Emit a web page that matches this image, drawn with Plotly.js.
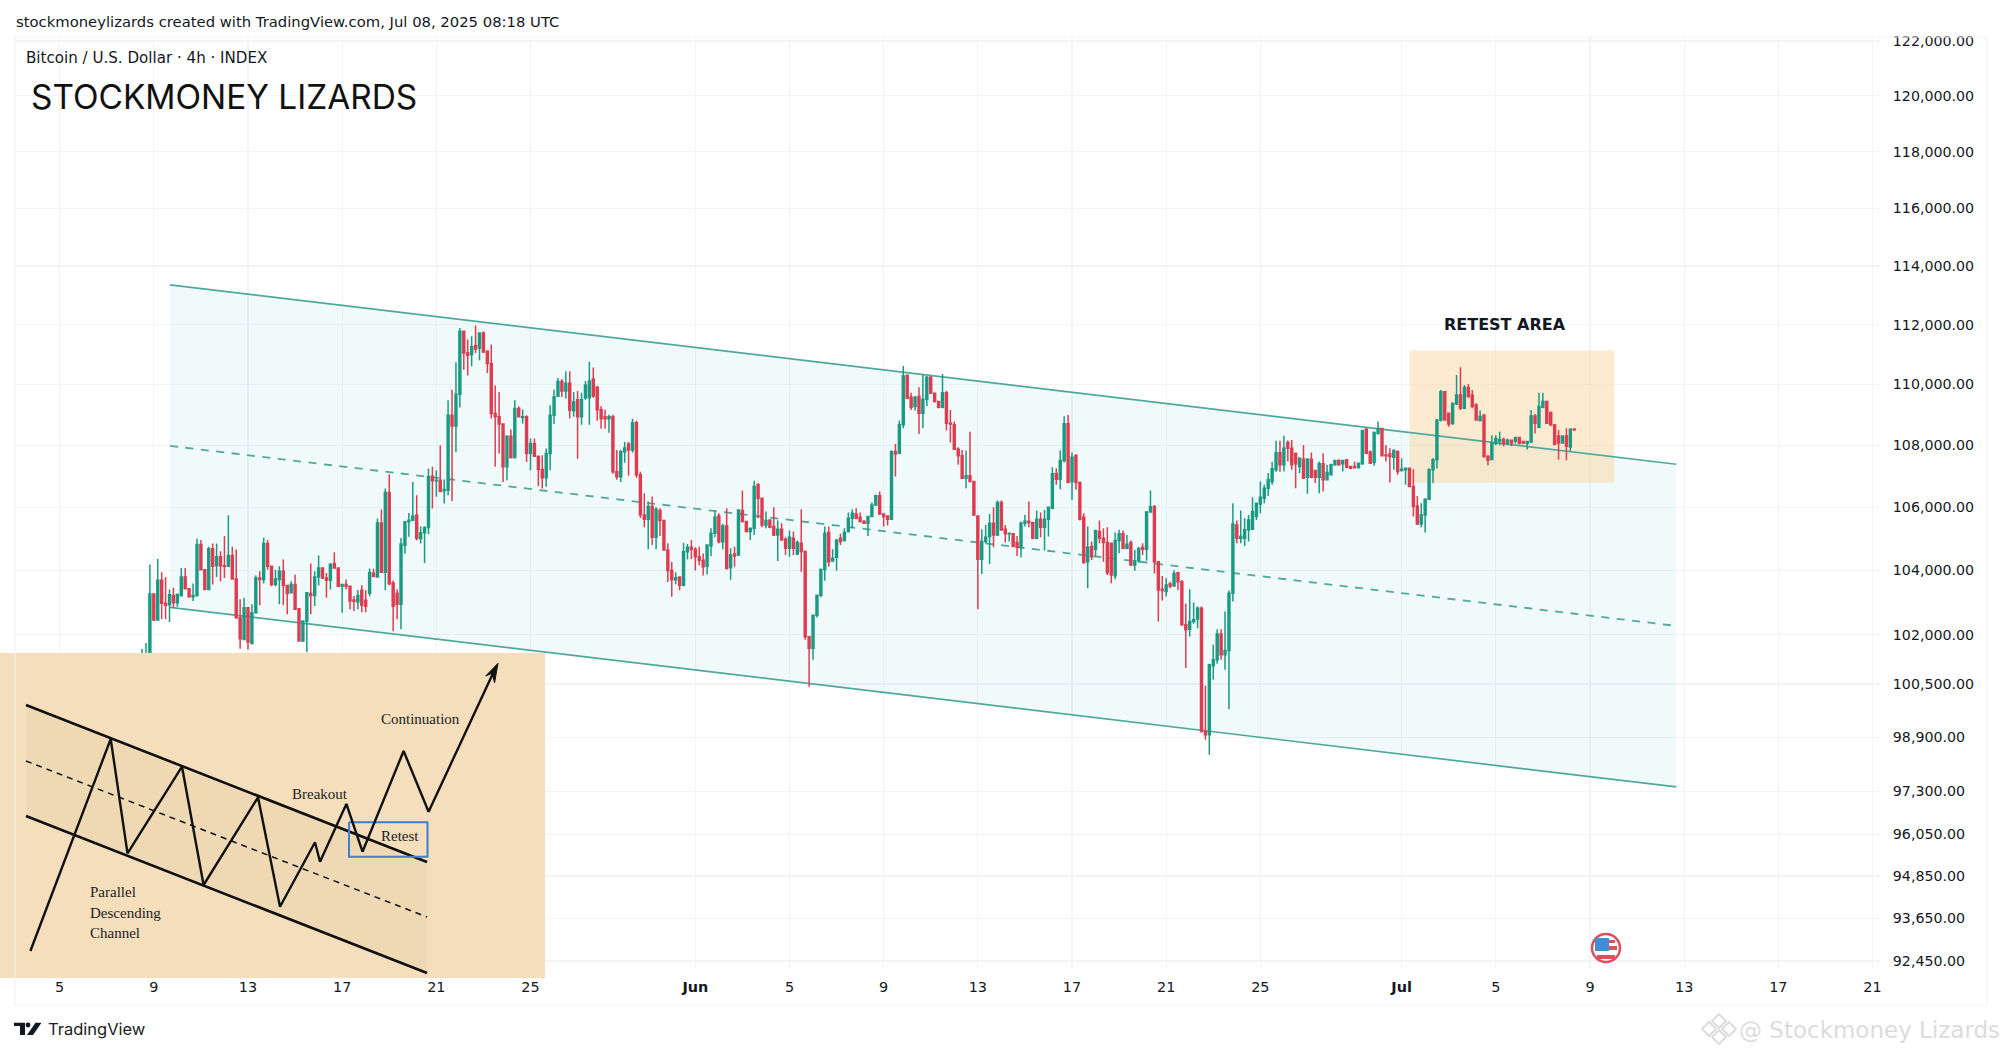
<!DOCTYPE html>
<html>
<head>
<meta charset="utf-8">
<script src="https://cdn.plot.ly/plotly-3.0.1.min.js"></script>
<style>html,body{margin:0;padding:0;background:#fff}#chart{width:2001px;height:1053px}</style>
</head>
<body>
<div id="chart"></div>
<script>
// ---- candle data (BTCUSD 4h) ----
const candleStart = '2025-05-08T12:00:00Z';
const opens = [100630,101085,101400,103262,102459,103695,102974,102933,103222,102995,103222,103798,103428,103180,103222,104820,104025,103407,104682,104152,104428,104152,104131,104470,103737,102532,101862,102841,101738,102686,103768,103716,104852,104131,103562,103716,103974,103530,103304,103562,102810,101811,102428,103283,103222,103798,104078,103768,103695,104216,104078,103510,103562,103510,103078,103016,
103380,103070,103290,103917,103793,105503,103948,106474,103606,103287,102946,104793,105535,105588,105746,105006,105186,105355,106998,106848,106869,106528,106549,108986,108627,109673,111778,111050,110994,111296,111218,111722,111106,110692,109041,108932,108692,107300,108294,107602,109204,108910,108932,107731,108055,107645,107214,106945,107731,108986,109608,110098,109782,110042,109128,
109490,108930,109555,109555,110180,109915,109160,108930,108865,108930,107140,106980,107790,108045,107850,108735,107045,105756,105618,106022,105046,105894,105576,104643,104000,103712,103794,103536,104590,104728,104664,104431,104325,104134,104770,105173,105724,104908,105406,104092,104516,104484,105894,105544,105226,105332,106722,106291,105438,105597,105385,105120,105300,104982,104696,
105016,104519,104857,104593,101940,101590,102605,103225,104030,105196,104296,104413,105016,104942,105228,105651,105788,105683,105545,105492,105704,106076,106366,105788,105725,105619,107796,107742,108667,110302,109574,109268,109596,109049,109508,110235,109705,109432,109246,109727,108721,108667,107871,107656,106936,107011,106829,105725,104350,104910,105069,105492,105122,106150,
105302,105154,105154,104878,104730,105492,105556,105513,105016,105619,105365,105619,105968,107075,106903,107505,108704,106828,107656,106796,105683,104275,104752,104667,105228,105016,104878,104857,103835,104942,105154,104699,104878,104170,104307,104730,104667,105852,106021,
104275,103413,103341,103578,103516,103928,103650,102311,102176,102414,102486,102826,99075,98975,101056,101239,102031,101391,101523,103289,105439,105016,105016,105281,105302,105704,106108,106291,106614,106818,107205,107755,
107366,108088,107903,107742,107312,107549,106968,107549,107183,106968,107398,106882,107043,107366,107505,107398,107527,107312,107312,107269,107398,108528,107785,107441,108396,108550,107688,107720,107613,107796,107183,107205,107258,106667,106043,105471,105757,106258,107204,107527,108828,109759,109047,108719,109354,109650,109212,109901,109650,109321,108806,108993,107645,107538,108055,108142,108186,108077,108164,108142,108252,108121,108055,108110,108960,108587,109244,109431,109069,108664,108303,108077,108303,107946,108533];
const closes = [101085,101400,103262,102459,103695,102974,102913,103242,102995,103252,103798,103428,103180,103222,104820,104025,103407,104682,104131,104428,104152,104131,104470,103737,102532,101883,102841,101780,102686,103768,103716,104852,104131,103562,103737,103974,103530,103283,103562,102789,101811,102428,103304,103222,103798,104078,103768,103695,104184,104078,103510,103562,103510,103047,103037,103222,
102915,102885,103940,103814,105503,103948,106474,103587,102885,102946,104837,105535,105588,105725,105006,105186,105355,106977,106848,106869,106506,106570,108986,108627,109673,111778,111050,110972,111252,111184,111722,111084,110692,109041,108932,108692,107300,108294,107602,109204,108932,108932,107731,108055,107645,107214,106945,107731,108986,109586,110098,109782,110042,109150,109422,
108930,109490,109980,110115,109620,109160,108865,108865,108930,107140,106980,107790,107915,107850,108735,107045,105760,105618,106022,105046,105936,105576,104643,104000,103712,103773,103536,104590,104728,104664,104431,104325,104113,104802,105173,105682,104908,105406,104059,104484,104452,105915,105544,105226,105332,106668,106291,105438,105576,105364,105120,105300,104961,104696,105046,
104699,104878,104593,101940,101590,102605,103225,104030,105175,104275,104381,104963,104910,105196,105651,105810,105651,105545,105492,105704,106076,106366,105788,105704,105619,107796,107720,108667,110280,109541,109246,109574,109049,109508,110235,109705,109432,109246,109727,108721,108699,107871,107656,106936,107011,106829,105757,104350,104910,105048,105492,105122,106150,105280,
105154,105175,104752,104730,105492,105556,105513,105016,105619,105365,105619,106000,107075,106903,107505,108704,106796,107613,106796,105619,104244,104730,104434,105259,105016,104878,103928,103856,104942,105154,104699,104826,104170,104307,104699,104667,105852,106021,104275,
103392,103372,103547,103516,103907,103650,102311,102156,102414,102465,102826,99075,98975,101087,101239,102031,101391,101523,103289,105471,105016,105069,105281,105598,105862,106129,106323,106614,106883,107238,107755,107367,
107903,107903,107366,107398,107581,106936,107549,106968,106968,107398,106882,107118,107366,107505,107366,107505,107290,107258,107269,107419,108484,107742,107419,108418,108550,107656,107656,107634,107828,107151,107226,107258,106667,106022,105471,105757,106258,107204,107527,108827,109759,108828,108697,109376,109650,109212,109901,109595,109266,108828,108938,107624,107516,108055,108219,108186,108055,108164,108077,108252,108055,108077,108121,108960,108719,109266,109431,108719,108664,108033,108077,108303,107968,108522,108500];
const highs = [101570,101750,104184,103262,104364,103943,103798,103407,103459,103283,104078,104078,103428,103592,105000,104958,104025,104746,104852,104852,104608,105085,105742,104746,104661,103098,103150,102841,102944,103840,103974,105032,104958,104131,104025,104131,104343,103530,103664,103870,102810,102428,103304,104216,103974,104470,104078,103922,104237,104576,104078,103562,103716,103510,103201,103386,
103535,103380,104060,104053,105640,105926,106603,107063,103690,103411,105027,105535,105820,106815,106388,105398,105398,107246,107300,107192,108000,106891,109477,109826,110736,111890,111778,111498,111610,111968,111722,111778,111140,111330,109967,109749,108692,108327,108512,109477,109281,109171,108986,108218,108218,107645,107677,107892,109313,109826,110210,110176,110434,110434,109749,
109780,109720,110115,110755,110560,109915,109290,109160,108995,108995,107850,107850,108110,108110,108865,108800,107140,106452,106183,106345,106000,105968,105576,104855,104265,103948,103815,104876,104834,104961,104728,104749,104537,104802,105332,105894,105809,105470,105968,104696,104749,105936,106539,105544,105332,106851,106775,106291,105862,105597,106000,105576,105491,105046,105258,
105228,104942,105937,104625,101940,102605,103225,104060,105386,105386,104667,104984,105154,105333,105831,105937,105968,105831,105598,105725,106150,106398,106506,105788,105725,107828,108043,108809,110616,110302,109727,109617,109902,110314,110280,110280,109705,109432,110347,109792,109158,108776,107935,107850,107828,108440,106829,105725,105302,105439,105788,106000,106215,106215,
105439,105196,105154,105090,105545,105757,106183,105513,105894,105831,105915,106021,107290,107258,107828,108946,108990,107763,107720,106828,105810,105386,104910,105281,105577,105333,105365,104878,105196,105281,105259,105122,104942,104646,104730,104857,105884,106537,106075,
104275,103825,103763,103650,104010,103959,103701,102960,103413,103001,102877,102877,100447,101117,101696,102175,102175,102723,103372,106129,105577,105894,105651,105757,106323,106129,106829,106722,107100,107464,108145,108145,
108308,108154,108176,107763,107613,108011,107581,107763,107183,107473,107742,107366,107398,107527,107549,107527,107549,107333,107473,107441,108506,108550,107828,108451,108781,108572,108011,107903,107871,107828,107581,107258,107258,107226,106365,106129,106290,107258,107581,108860,109814,109781,109047,109376,110314,110571,109978,110011,109814,109376,109135,108993,107677,108329,108329,108438,108252,108219,108186,108274,108274,108142,108142,109157,109025,109726,109726,109463,109102,108697,108500,108329,108554,108554,108554];
const lows = [100330,100330,100500,102428,102459,102480,102480,102398,102841,102871,103180,103407,103150,103047,103180,104025,103386,103386,103562,103798,103665,103768,104110,103716,102501,101574,101841,101553,101708,102665,102913,103592,104025,103510,103510,102944,102913,102634,103283,102769,101811,101780,101471,102634,102892,103530,103737,103150,103407,104056,103489,102686,103407,102789,102738,102789,
102700,102700,103195,103793,103772,103927,103380,103535,102110,102481,102170,104529,105059,105588,104953,104847,104235,105144,105958,106334,106485,106119,106388,106205,107785,109237,110490,110300,110602,111050,110804,111050,110378,108877,107300,107731,106815,106869,107569,107569,108910,108714,107461,107192,107623,106675,106603,106657,107192,108692,109586,109586,109531,108877,108932,
107560,108670,109490,108670,109555,108800,108540,108540,108410,107075,106880,106815,107430,107010,107755,106945,105660,105364,104664,104802,104664,105088,104622,103640,103176,103567,103382,103506,104346,104357,104000,104166,103845,103876,104452,105046,104855,104664,104028,103712,104113,104452,105512,105194,104961,105120,105650,105364,105332,105332,105088,104300,104940,104484,104431,
104487,104487,103960,101850,100420,101240,102540,103165,103680,104116,104275,103990,104804,104910,105196,105333,105619,105513,105471,105090,105683,106043,105757,105386,105418,105598,106990,107720,108557,109508,109158,109137,108371,108557,109290,109683,109399,109213,109213,108481,108087,107850,107366,106904,106613,106796,105725,102790,103886,104857,104201,104730,105090,105259,
104878,104910,104730,104455,104413,105386,105365,104984,104984,105048,104625,105069,105936,106720,106581,107441,106775,106237,106559,105577,104223,103444,104328,104455,104857,104275,103856,103598,103722,104540,104667,104667,104138,103990,104244,104487,104307,105831,103907,
102414,103063,103186,103444,103495,103392,102280,100985,101950,102342,102208,99045,98826,98378,100630,101117,101239,100934,99741,103032,104857,104857,104773,104910,105281,105598,105810,106129,106360,106721,107140,107140,
107151,107473,107205,106613,107097,106904,106430,106936,106775,106452,106506,106860,107011,107333,107333,107151,107258,107226,107247,107247,107366,107720,107398,107333,108341,107634,107473,106796,107205,107043,107151,106721,106645,105704,105439,105365,105196,106237,106775,107248,108774,108806,108609,108664,109321,109157,109179,109573,109212,108806,108774,107602,107355,107516,108000,108000,107968,108000,107968,108055,108033,108033,107860,108077,108384,108554,109212,108697,108642,108000,107538,108055,107516,107817,108478];

// ---- axes ----
const xStart = '2025-05-03T02:30:00Z', xEnd = '2025-07-21T07:40:00Z';
const yBottom = 92255, yTop = 122145;
const xTickVals = ['2025-05-05','2025-05-09','2025-05-13','2025-05-17','2025-05-21','2025-05-25','2025-06-01','2025-06-05','2025-06-09','2025-06-13','2025-06-17','2025-06-21','2025-06-25','2025-07-01','2025-07-05','2025-07-09','2025-07-13','2025-07-17','2025-07-21'];
const xTickText = ['5','9','13','17','21','25','<b>Jun</b>','5','9','13','17','21','25','<b>Jul</b>','5','9','13','17','21'];
const yTickVals = [122000,120000,118000,116000,114000,112000,110000,108000,106000,104000,102000,100500,98900,97300,96050,94850,93650,92450];
const yTickText = ['122,000.00','120,000.00','118,000.00','116,000.00','114,000.00','112,000.00','110,000.00','108,000.00','106,000.00','104,000.00','102,000.00','100,500.00','98,900.00','97,300.00','96,050.00','94,850.00','93,650.00','92,450.00'];

// ---- channel drawn on the chart ----
const channelX = ['2025-05-09T16:30:00Z','2025-07-12T16:00:00Z'];
const channelUpper = [113350,107385];
const channelMiddle = [107980,102277];
const channelLower = [102850,97430];
const retestX = ['2025-07-01T08:10:00Z','2025-07-10T00:40:00Z'];
const retestY = [106790,111130];

// ---- inset sketch ----
const insetBgX = [0,545,545,0,0], insetBgY = [0,0,325,325,0];
const insetBandX = [26,427,427,26,26], insetBandY = [52,209,320,163,52];
const insetLineX = [26,427];
const insetUpperY = [52,209], insetMiddleY = [108,264], insetLowerY = [163,320];
const zigX = [30.4,110.7,127.5,182,203.6,258,280,315,320,346.4,362.5,403.6,428.6,495];
const zigY = [298,86,200.3,113.7,232,144.3,253.7,189.3,208.7,151,198.7,98,158.7,16];
const headX = [498,485.7,492,494.6,498], headY = [10.3,23,20.3,29.7,10.3];
const retestBoxX = [349,427.5,427.5,349,349], retestBoxY = [169.3,169.3,203.7,203.7,169.3];
const insetLabels = [
  ['Continuation',420.7,66,'center'],['Breakout',319.5,141,'center'],['Retest',400,182.7,'center'],
  ['Parallel',88,238.7,'left'],['Descending',88,259.7,'left'],['Channel',88,280.3,'left']
];

// ---- colours ----
const GREEN='#1a9a83', RED='#de3c50', CH='#4fa99b', GRID='#f3f4f6', UI='DejaVu Sans, sans-serif';

const W=2001, H=1053;
const px=v=>v/W, py=v=>1-v/H;
const times = opens.map((_,i)=>new Date(Date.parse(candleStart)+i*4*3600*1000).toISOString());

const traces = [
  {type:'scatter',mode:'none',x:[channelX[0],channelX[1],channelX[1],channelX[0],channelX[0]],
   y:[channelUpper[0],channelUpper[1],channelLower[1],channelLower[0],channelUpper[0]],fill:'toself',fillcolor:'rgba(0,170,165,0.06)',hoverinfo:'skip'},
  {type:'scatter',mode:'none',x:[retestX[0],retestX[1],retestX[1],retestX[0],retestX[0]],
   y:[retestY[0],retestY[0],retestY[1],retestY[1],retestY[0]],fill:'toself',fillcolor:'rgba(250,210,150,0.44)',hoverinfo:'skip'},
  {type:'scatter',mode:'lines',x:channelX,y:channelUpper,line:{color:CH,width:1.7}},
  {type:'scatter',mode:'lines',x:channelX,y:channelLower,line:{color:CH,width:1.7}},
  {type:'scatter',mode:'lines',x:channelX,y:channelMiddle,line:{color:CH,width:1.8,dash:'8px,7.5px'}},
  {type:'candlestick',xaxis:'x2',yaxis:'y2',x:times,open:opens,high:highs,low:lows,close:closes,whiskerwidth:0,
   increasing:{line:{color:GREEN,width:1.5},fillcolor:GREEN},decreasing:{line:{color:RED,width:1.5},fillcolor:RED}},
  {type:'scatter',xaxis:'x3',yaxis:'y3',mode:'none',x:insetBgX,y:insetBgY,fill:'toself',fillcolor:'#f4debc'},
  {type:'scatter',xaxis:'x3',yaxis:'y3',mode:'none',x:insetBandX,y:insetBandY,fill:'toself',fillcolor:'#efd9b5'},
  {type:'scatter',xaxis:'x3',yaxis:'y3',mode:'lines',x:insetLineX,y:insetUpperY,line:{color:'#111',width:2.6}},
  {type:'scatter',xaxis:'x3',yaxis:'y3',mode:'lines',x:insetLineX,y:insetLowerY,line:{color:'#111',width:2.6}},
  {type:'scatter',xaxis:'x3',yaxis:'y3',mode:'lines',x:insetLineX,y:insetMiddleY,line:{color:'#111',width:1.5,dash:'6px,5px'}},
  {type:'scatter',xaxis:'x3',yaxis:'y3',mode:'lines',x:retestBoxX,y:retestBoxY,line:{color:'#3f7fd0',width:2}},
  {type:'scatter',xaxis:'x3',yaxis:'y3',mode:'lines',x:zigX,y:zigY,line:{color:'#111',width:2.4,simplify:false}},
  {type:'scatter',xaxis:'x3',yaxis:'y3',mode:'lines',x:headX,y:headY,fill:'toself',fillcolor:'#111',line:{color:'#111',width:1}}
];

const ann=(text,x,y,size,opt={})=>Object.assign({text,x:px(x),y:py(y),xref:'paper',yref:'paper',showarrow:false,xanchor:'left',yanchor:'middle',
  font:{family:UI,size,color:'#131722'},borderpad:0},opt);
const annotations=[
  ann('stockmoneylizards created with TradingView.com, Jul 08, 2025 08:18 UTC',15,21,14.8),
  ann('Bitcoin / U.S. Dollar · 4h · INDEX',25,58,15.1),
  ann('STOCKMONEY LIZARDS',30,97,33.4,{font:{family:'Inter, sans-serif',size:33.4,color:'#111'}}),
  ann('<b>RETEST AREA</b>',1505,324,16,{xanchor:'center'}),
  ann('TradingView',47,1029,16.5,{font:{family:'Inter, sans-serif',size:16.5,color:'#222'}}),
  ann('@ Stockmoney Lizards',1738,1030,24,{font:{family:'DejaVu Sans, sans-serif',size:23,color:'#dcdcdc'}})
].concat(insetLabels.map(l=>({text:l[0],x:l[1],y:l[2],xref:'x3',yref:'y3',showarrow:false,xanchor:l[3],yanchor:'middle',
  font:{family:'Liberation Serif, serif',size:15,color:'#222'}})));

const poly=(pts,o)=>Object.assign({type:'path',xref:'paper',yref:'paper',
  path:'M'+pts.map(p=>px(p[0])+','+py(p[1])).join('L')+'Z',line:{width:0}},o);
const circ=(cx,cy,r,o)=>Object.assign({type:'circle',xref:'paper',yref:'paper',x0:px(cx-r),x1:px(cx+r),y0:py(cy+r),y1:py(cy-r)},o);
const rect=(x0,y0,x1,y1,o)=>Object.assign({type:'rect',xref:'paper',yref:'paper',x0:px(x0),x1:px(x1),y0:py(y1),y1:py(y0)},o);
const shapes=[
  rect(15,37,1987,1005,{line:{color:'#f1f2f4',width:1.2}}),
  // TradingView logo
  poly([[14,1022.7],[25,1022.7],[25,1035],[20,1035],[20,1026],[14,1026]],{fillcolor:'#131722'}),
  circ(28,1025,2.4,{fillcolor:'#131722',line:{width:0}}),
  poly([[35.5,1022.7],[41.5,1022.7],[33,1035],[27,1035]],{fillcolor:'#131722'}),
  // economic event flag
  circ(1606,948,14,{fillcolor:'#fff',line:{color:'#d9505f',width:2.5}}),
  rect(1595,938,1609,951,{fillcolor:'#3f8fd8',line:{width:0}}),
  rect(1609,940,1615,943,{fillcolor:'#d9505f',line:{width:0}}),
  rect(1609,946,1617,950,{fillcolor:'#d9505f',line:{width:0}}),
  rect(1597,955,1615,959,{fillcolor:'#d9505f',line:{width:0}}),
  // watermark mark
  poly([[1719,1014],[1726,1021],[1719,1028],[1712,1021]],{fillcolor:'rgba(0,0,0,0)',line:{color:'#dcdcdc',width:2}}),
  poly([[1709,1022],[1716,1029],[1709,1036],[1702,1029]],{fillcolor:'rgba(0,0,0,0)',line:{color:'#dcdcdc',width:2}}),
  poly([[1729,1022],[1736,1029],[1729,1036],[1722,1029]],{fillcolor:'rgba(0,0,0,0)',line:{color:'#dcdcdc',width:2}}),
  poly([[1719,1030],[1726,1037],[1719,1044],[1712,1037]],{fillcolor:'rgba(0,0,0,0)',line:{color:'#dcdcdc',width:2}})
];

const xDom=[px(15),px(1880)], yDom=[py(968),py(37)];
const yRange=[Math.log10(yBottom),Math.log10(yTop)];
const layout={
  width:W,height:H,margin:{l:0,r:0,t:0,b:0},paper_bgcolor:'#fff',plot_bgcolor:'rgba(0,0,0,0)',showlegend:false,hovermode:false,
  xaxis:{type:'date',domain:xDom,range:[xStart,xEnd],anchor:'y',tickmode:'array',tickvals:xTickVals,ticktext:xTickText,showgrid:true,gridcolor:GRID,gridwidth:1.2,
    ticks:'outside',ticklen:6,tickcolor:'rgba(0,0,0,0)',tickfont:{family:UI,size:14.4,color:'#131722'},showline:false,zeroline:false,rangeslider:{visible:false}},
  yaxis:{type:'log',domain:yDom,range:yRange,anchor:'x',side:'right',tickmode:'array',tickvals:yTickVals,ticktext:yTickText,showgrid:true,gridcolor:GRID,gridwidth:1.2,
    ticks:'outside',ticklen:9,tickcolor:'rgba(0,0,0,0)',tickfont:{family:UI,size:14.2,color:'#131722'},showline:false,zeroline:false},
  xaxis2:{type:'date',domain:xDom,range:[xStart,xEnd],anchor:'y2',visible:false,rangeslider:{visible:false}},
  yaxis2:{type:'log',domain:yDom,range:yRange,anchor:'x2',visible:false},
  xaxis3:{domain:[0,px(545)],range:[0,545],anchor:'y3',visible:false},
  yaxis3:{domain:[py(978),py(653)],range:[325,0],anchor:'x3',visible:false},
  annotations,shapes
};
Plotly.newPlot('chart',traces,layout,{staticPlot:true,displayModeBar:false});
</script>
</body>
</html>
